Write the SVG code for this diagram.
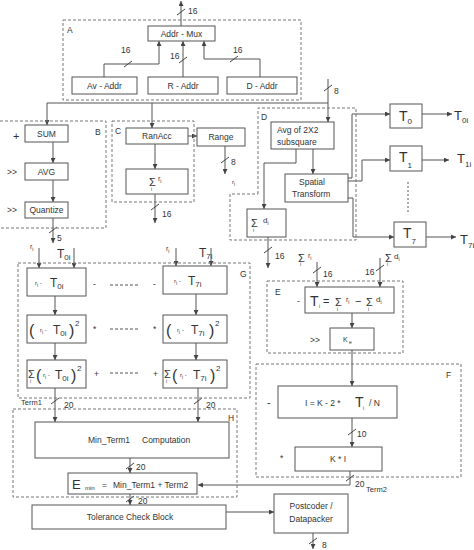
<svg xmlns="http://www.w3.org/2000/svg" width="474" height="550" viewBox="0 0 474 550" font-family="'Liberation Sans', Arial, sans-serif" font-size="8.5" xml:space="preserve">
<defs>
<marker id="ah" viewBox="0 0 6 6" refX="6" refY="3" markerWidth="5" markerHeight="5" markerUnits="userSpaceOnUse" orient="auto"><path d="M0,0 L6,3 L0,6 z" fill="#444"/></marker>
<style>
.box{fill:#fff;stroke:#555;stroke-width:1}
.dash{fill:none;stroke:#777;stroke-width:1;stroke-dasharray:3 2}
.ln{fill:none;stroke:#555;stroke-width:1}
.ar{fill:none;stroke:#555;stroke-width:1;marker-end:url(#ah)}
.sl{stroke:#444;stroke-width:1}
text{fill:#333}
.c{text-anchor:middle}
</style>
</defs>
<rect width="474" height="550" fill="#fff"/>
<g id="connectors">
<path class="ar" d="M181,26 V1"/>
<line class="sl" x1="177" y1="15" x2="185" y2="9"/>
<path class="ar" d="M104,77 V64 H159 V41"/>
<line class="sl" x1="124" y1="67" x2="132" y2="61"/>
<path class="ar" d="M183,77 V41"/>
<line class="sl" x1="179" y1="63" x2="187" y2="57"/>
<path class="ar" d="M260,77 V59 H204 V41"/>
<line class="sl" x1="230" y1="62" x2="238" y2="56"/>
<path class="ln" d="M47,103 H328"/>
<path class="ar" d="M47,103 V125"/>
<path class="ar" d="M152,103 V128"/>
<path class="ar" d="M328,79 V122"/>
<line class="sl" x1="324" y1="91" x2="332" y2="85"/>
<path class="ar" d="M53,142 V163"/>
<path class="ar" d="M53,180 V202"/>
<path class="ar" d="M53,218 V243"/>
<line class="sl" x1="49" y1="233" x2="57" y2="227"/>
<path class="ar" d="M188,136 H197"/>
<path class="ar" d="M155,144 V169"/>
<path class="ar" d="M155,194 V223"/>
<line class="sl" x1="151" y1="210" x2="159" y2="204"/>
<path class="ar" d="M225,146 V174"/>
<line class="sl" x1="221" y1="163" x2="229" y2="157"/>
<path class="ar" d="M313,149 V174"/>
<path class="ar" d="M296,149 V163 H264 V209"/>
<path class="ar" d="M268,237 V268"/>
<line class="sl" x1="264" y1="253" x2="272" y2="247"/>
<path class="ar" d="M348,178 H352 V114 H390"/>
<path class="ar" d="M348,181 H362 V160 H390"/>
<path class="ar" d="M348,198 H353 V237 H394"/>
<path class="ar" d="M422,114 H452"/>
<path class="ar" d="M422,160 H449"/>
<path class="ar" d="M426,237 H456"/>
<path class="ln" d="M408,182 V212" stroke-dasharray="2 2"/>
<path class="ar" d="M39,248 V268"/>
<path class="ar" d="M74,248 V268"/>
<path class="ar" d="M176,248 V266"/>
<path class="ar" d="M211,248 V266"/>
<path class="ar" d="M55,296 V315"/>
<path class="ar" d="M55,343 V360"/>
<path class="ar" d="M196,294 V315"/>
<path class="ar" d="M196,343 V360"/>
<path class="ln" d="M110,285 H140 M110,329 H140 M110,373 H140" stroke-dasharray="3 2"/>
<path class="ar" d="M55,388 V422"/>
<line class="sl" x1="51" y1="404" x2="59" y2="398"/>
<path class="ar" d="M198,388 V422"/>
<line class="sl" x1="194" y1="404" x2="202" y2="398"/>
<path class="ar" d="M317,262 V287"/>
<line class="sl" x1="313" y1="273" x2="321" y2="267"/>
<path class="ar" d="M380,258 V287"/>
<line class="sl" x1="376" y1="271" x2="384" y2="265"/>
<path class="ar" d="M352,313 V328"/>
<path class="ar" d="M352,350 V386"/>
<path class="ar" d="M352,418 V447"/>
<line class="sl" x1="348" y1="435" x2="356" y2="429"/>
<path class="ar" d="M350,471 V485 H198"/>
<line class="sl" x1="346" y1="481" x2="354" y2="475"/>
<path class="ar" d="M130,458 V473"/>
<line class="sl" x1="126" y1="469" x2="134" y2="463"/>
<path class="ar" d="M130,494 V505"/>
<line class="sl" x1="126" y1="502" x2="134" y2="496"/>
<path class="ar" d="M226,512 H274"/>
<path class="ar" d="M313,533 V549"/>
<line class="sl" x1="309" y1="544" x2="317" y2="538"/>
</g>
<g id="labels">
<text x="188" y="14">16</text>
<text x="121" y="53">16</text>
<text x="170" y="59">16</text>
<text x="233" y="53">16</text>
<text x="334" y="94">8</text>
<text x="57" y="241">5</text>
<text x="162" y="217">16</text>
<text x="231" y="165">8</text>
<text x="232" y="184" font-size="6">r<tspan font-size="4.5" dy="2">i</tspan></text>
<text x="275" y="259">16</text>
<text x="323" y="277">16</text>
<text x="365" y="275">16</text>
<text x="357" y="437">10</text>
<text x="355" y="487">20</text>
<text x="366" y="492" font-size="7.5">Term2</text>
<text x="64" y="408">20</text>
<text x="206" y="408">20</text>
<text x="21" y="405" font-size="7.5">Term1</text>
<text x="136" y="470">20</text>
<text x="138" y="504">20</text>
<text x="322" y="548">8</text>
<text x="454" y="120" font-size="13">T<tspan font-size="8" dy="3">0i</tspan></text>
<text x="457" y="163" font-size="13">T<tspan font-size="8" dy="4">1i</tspan></text>
<text x="460" y="244" font-size="13">T<tspan font-size="8" dy="4">7i</tspan></text>
<text x="30" y="249" font-size="7">r<tspan font-size="5" dy="2">i</tspan></text>
<text x="57" y="258" font-size="12">T<tspan font-size="8" dy="2">0i</tspan></text>
<text x="166" y="251" font-size="7">r<tspan font-size="5" dy="2">i</tspan></text>
<text x="199" y="257" font-size="12">T<tspan font-size="8" dy="2">7i</tspan></text>
<text x="298" y="262" font-size="11">Σ</text><text x="300" y="266" font-size="4.5">i</text><text x="308" y="258" font-size="7">r<tspan font-size="5" dy="2">i</tspan></text>
<text x="385" y="262" font-size="11">Σ</text><text x="387" y="266" font-size="4.5">i</text><text x="394" y="259" font-size="8">d<tspan font-size="5" dy="2">i</tspan></text>
</g>
<g id="blockA">
<rect class="dash" x="63" y="20" width="238" height="80"/>
<text x="67" y="33">A</text>
</g>
<g id="addrMux"><rect class="box" x="148" y="26" width="67" height="15"/><text class="c" x="181.5" y="37">Addr - Mux</text></g>
<g id="avAddr"><rect class="box" x="72" y="77" width="65" height="17"/><text class="c" x="104.5" y="89">Av - Addr</text></g>
<g id="rAddr"><rect class="box" x="148" y="77" width="70" height="17"/><text class="c" x="183" y="89">R - Addr</text></g>
<g id="dAddr"><rect class="box" x="227" y="77" width="70" height="17"/><text class="c" x="262" y="89">D - Addr</text></g>
<g id="blockB">
<path class="dash" d="M0,121 H106 V228 H0"/>
<text x="95" y="135">B</text>
<text x="13" y="140" font-size="11">+</text>
<text x="7" y="175">&gt;&gt;</text>
<text x="7" y="213">&gt;&gt;</text>
</g>
<g id="sum"><rect class="box" x="25" y="125" width="43" height="17"/><text class="c" x="46.5" y="136.5">SUM</text></g>
<g id="avg"><rect class="box" x="25" y="163" width="43" height="17"/><text class="c" x="46.5" y="174.5">AVG</text></g>
<g id="quantize"><rect class="box" x="25" y="202" width="43" height="16"/><text class="c" x="46.5" y="213">Quantize</text></g>
<g id="blockC">
<rect class="dash" x="112" y="121" width="82" height="81"/>
<text x="115" y="134">C</text>
</g>
<g id="ranAcc"><rect class="box" x="126" y="128" width="62" height="16"/><text class="c" x="157" y="139">RanAcc</text></g>
<g id="range"><rect class="box" x="197" y="128" width="48" height="18"/><text class="c" x="221" y="140">Range</text></g>
<g id="sumR"><rect class="box" x="126" y="169" width="62" height="25"/><text x="149" y="186" font-size="11">Σ</text><text x="151" y="191" font-size="4.5">i</text><text x="158" y="181" font-size="7">r<tspan font-size="5" dy="2">i</tspan></text></g>
<g id="blockD">
<path class="dash" d="M258,194 V108 H356 V240 H230 V194 Z"/>
<text x="261" y="120">D</text>
</g>
<g id="avg2x2"><rect class="box" x="271" y="122" width="63" height="27"/><text x="277" y="133">Avg of  2X2</text><text x="277" y="145">subsquare</text></g>
<g id="spatial"><rect class="box" x="285" y="174" width="63" height="28"/><text x="299" y="185">Spatial</text><text x="292" y="197">Transform</text></g>
<g id="sumD"><rect class="box" x="247" y="209" width="39" height="28"/><text x="251" y="227" font-size="11">Σ</text><text x="253" y="232" font-size="4.5">i</text><text x="263" y="223" font-size="8">d<tspan font-size="5" dy="2">i</tspan></text></g>
<g id="t0"><rect class="box" x="390" y="104" width="32" height="24"/><text x="399" y="121" font-size="14">T<tspan font-size="8" dy="3">0</tspan></text></g>
<g id="t1"><rect class="box" x="390" y="146" width="32" height="25"/><text x="399" y="162" font-size="14">T<tspan font-size="8" dy="6">1</tspan></text></g>
<g id="t7"><rect class="box" x="394" y="222" width="32" height="25"/><text x="403" y="238" font-size="14">T<tspan font-size="8" dy="6">7</tspan></text></g>
<g id="blockG">
<rect class="dash" x="18" y="263" width="232" height="135"/>
<text x="240" y="277">G</text>
<text x="93" y="287">-</text>
<text x="93" y="332">*</text>
<text x="94" y="377">+</text>
<text x="153" y="287">-</text>
<text x="153" y="332">*</text>
<text x="153" y="377">+</text>
</g>
<g id="g1l"><rect class="box" x="27" y="268" width="59" height="28"/><text x="35" y="285" font-size="6">r<tspan font-size="4.5" dy="2">i</tspan><tspan dy="-2"> - </tspan></text><text x="50" y="287" font-size="12">T<tspan font-size="8" dy="2">0i</tspan></text></g>
<g id="g2l"><rect class="box" x="27" y="315" width="59" height="28"/><text x="29" y="336" font-size="16">(</text><text x="40" y="332" font-size="6">r<tspan font-size="4.5" dy="2">i</tspan><tspan dy="-2"> - </tspan></text><text x="53" y="334" font-size="12">T<tspan font-size="8" dy="2">0i</tspan></text><text x="69" y="336" font-size="16">)</text><text x="75" y="326" font-size="8">2</text></g>
<g id="g3l"><rect class="box" x="27" y="360" width="59" height="28"/><text x="28" y="378" font-size="11">Σ</text><text x="30" y="383" font-size="4.5">i</text><text x="36" y="381" font-size="16">(</text><text x="43" y="377" font-size="6">r<tspan font-size="4.5" dy="2">i</tspan><tspan dy="-2"> - </tspan></text><text x="55" y="379" font-size="12">T<tspan font-size="8" dy="2">0i</tspan></text><text x="71" y="381" font-size="16">)</text><text x="77" y="371" font-size="8">2</text></g>
<g id="g1r"><rect class="box" x="163" y="266" width="64" height="28"/><text x="174" y="283" font-size="6">r<tspan font-size="4.5" dy="2">i</tspan><tspan dy="-2"> - </tspan></text><text x="188" y="285" font-size="12">T<tspan font-size="8" dy="2">7i</tspan></text></g>
<g id="g2r"><rect class="box" x="163" y="315" width="64" height="28"/><text x="166" y="336" font-size="16">(</text><text x="177" y="332" font-size="6">r<tspan font-size="4.5" dy="2">i</tspan><tspan dy="-2"> - </tspan></text><text x="191" y="334" font-size="12">T<tspan font-size="8" dy="2">7i</tspan></text><text x="209" y="336" font-size="16">)</text><text x="215" y="326" font-size="8">2</text></g>
<g id="g3r"><rect class="box" x="163" y="360" width="64" height="28"/><text x="164" y="378" font-size="11">Σ</text><text x="166" y="383" font-size="4.5">i</text><text x="172" y="381" font-size="16">(</text><text x="180" y="377" font-size="6">r<tspan font-size="4.5" dy="2">i</tspan><tspan dy="-2"> - </tspan></text><text x="193" y="379" font-size="12">T<tspan font-size="8" dy="2">7i</tspan></text><text x="210" y="381" font-size="16">)</text><text x="216" y="371" font-size="8">2</text></g>
<g id="blockE">
<rect class="dash" x="267" y="281" width="136" height="72"/>
<text x="275" y="295">E</text>
<text x="297" y="304">-</text>
<text x="310" y="343">&gt;&gt;</text>
</g>
<g id="ti"><rect class="box" x="305" y="287" width="89" height="26"/><text x="310" y="306" font-size="14">T</text><text x="319" y="308" font-size="4.5">i</text><text x="323" y="305" font-size="11">=</text><text x="335" y="306" font-size="11">Σ</text><text x="337" y="311" font-size="4.5">i</text><text x="346" y="302" font-size="7">r<tspan font-size="5" dy="2">i</tspan></text><text x="355" y="305" font-size="11">−</text><text x="366" y="306" font-size="11">Σ</text><text x="368" y="311" font-size="4.5">i</text><text x="376" y="302" font-size="8">d<tspan font-size="5" dy="2">i</tspan></text></g>
<g id="ke"><rect class="box" x="330" y="328" width="44" height="22"/><text x="343" y="342" font-size="7">K<tspan font-size="5" dy="2"> e</tspan></text></g>
<g id="blockF">
<rect class="dash" x="256" y="364" width="205" height="113"/>
<text x="446" y="378">F</text>
<text x="267" y="406" font-size="11">-</text>
<text x="280" y="461">*</text>
</g>
<g id="iBox"><rect class="box" x="278" y="386" width="119" height="32"/><text x="305" y="406">I = K  - 2 *</text><text x="355" y="407" font-size="14">T</text><text x="363" y="410" font-size="4.5">i</text><text x="369" y="406">/ N</text></g>
<g id="kI"><rect class="box" x="295" y="447" width="87" height="24"/><text class="c" x="338" y="462">K  *  I</text></g>
<g id="blockH">
<rect class="dash" x="13" y="409" width="224" height="88"/>
<text x="228" y="421">H</text>
</g>
<g id="minTerm"><rect class="box" x="35" y="422" width="194" height="36"/><text x="88" y="443">Min_Term1</text><text x="142" y="443">Computation</text></g>
<g id="emin"><rect class="box" x="68" y="473" width="129" height="21"/><text x="72" y="489" font-size="13">E</text><text x="85" y="490" font-size="6">min</text><text x="102" y="488">=</text><text x="113" y="488">Min_Term1 + Term2</text></g>
<g id="tolerance"><rect class="box" x="32" y="505" width="194" height="24"/><text class="c" x="130" y="520">Tolerance Check  Block</text></g>
<g id="postcoder"><rect class="box" x="274" y="494" width="74" height="39"/><text class="c" x="311" y="509">Postcoder /</text><text class="c" x="311" y="522">Datapacker</text></g>
</svg>
